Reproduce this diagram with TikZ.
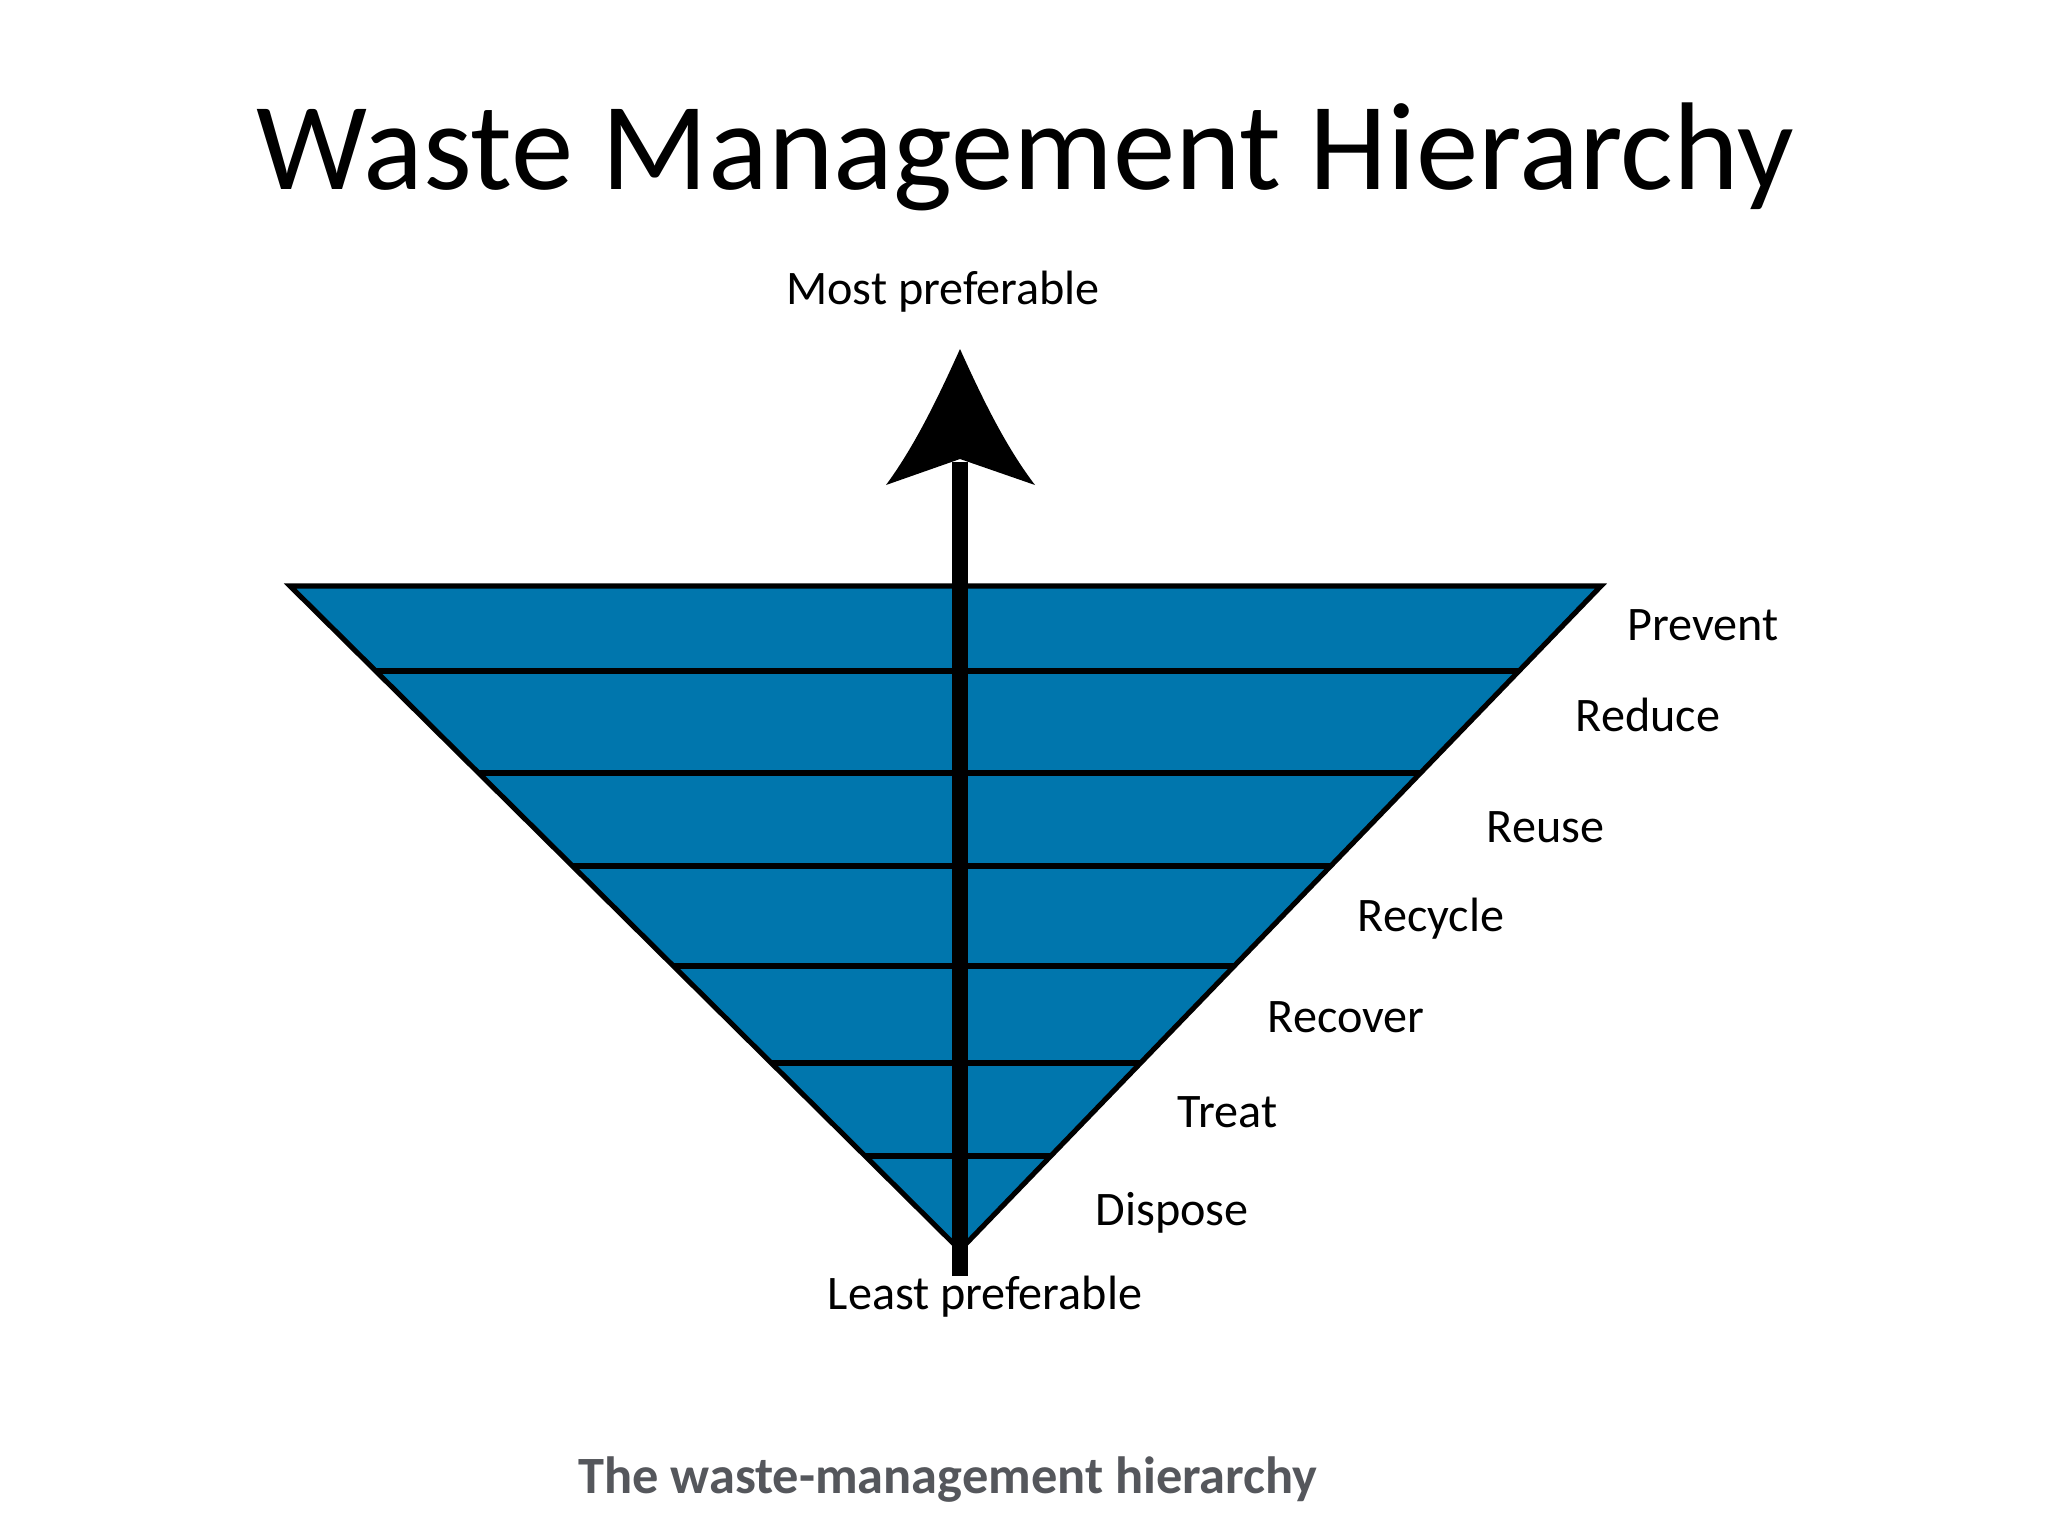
\documentclass[tikz,border=0pt]{standalone}
\usepackage{fontspec}
\setmainfont{Carlito}
\usetikzlibrary{calc}
\definecolor{bandblue}{HTML}{0076AD}
\definecolor{capgray}{HTML}{55575C}
\tikzset{
  lbl/.style={anchor=base west, inner sep=0pt, font=\fontsize{13.7}{16}\selectfont},
  edge/.style={line width=1.45pt, black},
}
\begin{document}
\begin{tikzpicture}[x=0.01cm,y=-0.01cm]
\useasboundingbox (0,0) rectangle (2048,1536);
\fill[white] (0,0) rectangle (2048,1536);
% title
\node[anchor=base, inner sep=0pt, font=\fontsize{35.5}{42}\selectfont] (title) at (1025,189) {Waste Management Hierarchy};
% triangle corners
\coordinate (TL) at (290,586);
\coordinate (TR) at (1601,586);
\coordinate (A) at (960,1250);
\fill[bandblue] (TL) -- (TR) -- (A) -- cycle;
\foreach \f in {0.128,0.2816,0.4217,0.5723,0.7184,0.8584}{
  \draw[edge] ($(TL)!\f!(A)$) -- ($(TR)!\f!(A)$);
}
\draw[edge, line join=miter] (TL) -- (TR) -- (A) -- cycle;
% arrow
\coordinate (shaftbot) at (960,1276);
\coordinate (shafttop) at (960,462);
\draw[line width=4.4pt] (shaftbot) -- (shafttop);
\coordinate (tip) at (960,349);
\coordinate (wr) at (1035,485);
\coordinate (notch) at (960,459);
\coordinate (wl) at (886,485);
\fill (tip) .. controls (983,400) and (1006,447) .. (wr) -- (notch) -- (wl) .. controls (914,447) and (937,400) .. (tip) -- cycle;
% labels
\node[anchor=base, inner sep=0pt, font=\fontsize{13.7}{16}\selectfont] (most) at (943,304) {Most preferable};
\node[anchor=base, inner sep=0pt, font=\fontsize{13.7}{16}\selectfont] (least) at (985,1309) {Least preferable};
\node[lbl] (prevent) at (1627,640) {Prevent};
\node[lbl] (reduce) at (1575,731) {Reduce};
\node[lbl] (reuse) at (1486,842) {Reuse};
\node[lbl] (recycle) at (1357,931) {Recycle};
\node[lbl] (recover) at (1267,1032) {Recover};
\node[lbl] (treat) at (1177,1127) {Treat};
\node[lbl] (dispose) at (1095,1225) {Dispose};
% caption
\node[anchor=base, inner sep=0pt, text=capgray, font=\bfseries\fontsize{14.9}{18}\selectfont] (caption) at (948,1493) {The waste-management hierarchy};
\end{tikzpicture}
\end{document}
